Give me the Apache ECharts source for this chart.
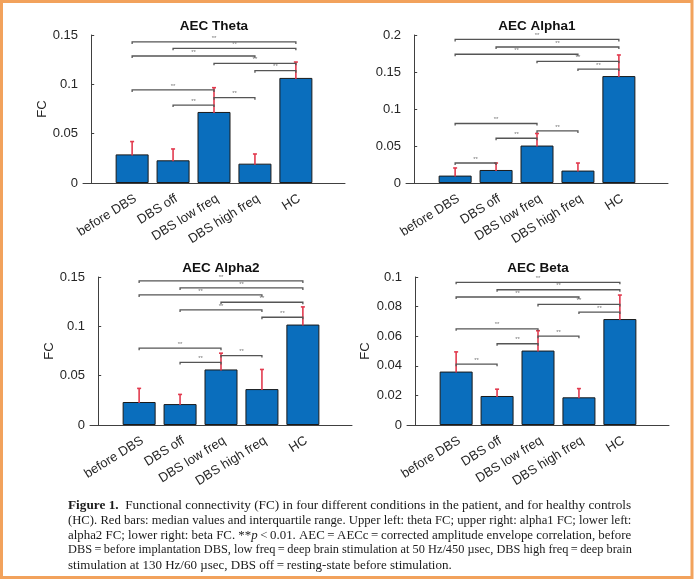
<!DOCTYPE html>
<html>
<head>
<meta charset="utf-8">
<script src="https://cdn.jsdelivr.net/npm/echarts@6/dist/echarts.min.js"></script>
<style>
html,body{margin:0;padding:0;background:#fff;}
#chart{width:694px;height:582px;}
</style>
</head>
<body>
<div id="chart"></div>
<script>
// ---------- data ----------
const categories = ['before DBS', 'DBS off', 'DBS low freq', 'DBS high freq', 'HC'];
const panelTitles = ['AEC Theta', 'AEC Alpha1', 'AEC Alpha2', 'AEC Beta'];

const thetaMedian  = [0.029, 0.023, 0.072, 0.0196, 0.1065];
const thetaUpper   = [0.042, 0.0345, 0.0966, 0.0294, 0.1226];
const alpha1Median = [0.010, 0.0176, 0.0506, 0.0168, 0.1445];
const alpha1Upper  = [0.0203, 0.027, 0.0669, 0.027, 0.173];
const alpha2Median = [0.0233, 0.0212, 0.0563, 0.0364, 0.1018];
const alpha2Upper  = [0.0371, 0.031, 0.0728, 0.0563, 0.1197];
const betaMedian   = [0.0361, 0.0196, 0.0503, 0.0187, 0.0716];
const betaUpper    = [0.0494, 0.0242, 0.0637, 0.0246, 0.0878];

// significance brackets: [from category #, to category #, height]
const thetaSig  = [[1,5,0.143],[2,5,0.1365],[1,4,0.1287],[3,5,0.1213],[4,5,0.1138],[1,3,0.0943],[3,4,0.0865],[2,3,0.079]];
const alpha1Sig = [[1,5,0.194],[2,5,0.1838],[1,4,0.174],[3,5,0.1644],[4,5,0.154],[1,3,0.0804],[3,4,0.0704],[2,3,0.0605],[1,2,0.027]];
const alpha2Sig = [[1,5,0.146],[2,5,0.1389],[1,4,0.1318],[3,5,0.1244],[2,4,0.1166],[4,5,0.1092],[1,3,0.0779],[3,4,0.0704],[2,3,0.0634]];
const betaSig   = [[1,5,0.0964],[2,5,0.0914],[1,4,0.0865],[3,5,0.0815],[4,5,0.0763],[1,3,0.065],[3,4,0.060],[2,3,0.0549],[1,2,0.0411]];

const yMax      = [0.15, 0.2, 0.15, 0.1];
const yInterval = [0.05, 0.05, 0.05, 0.02];
const showFC    = [true, false, true, true];

const T = '\u2009'; // thin space
const captionLines = [
  '{b|Figure 1.}  Functional connectivity (FC) in four different conditions in the patient, and for healthy controls',
  '(HC). Red bars: median values and interquartile range. Upper left: theta FC; upper right: alpha1 FC; lower left:',
  'alpha2 FC; lower right: beta FC. **{i|p}' + T + '<' + T + '0.01. AEC' + T + '=' + T + 'AECc' + T + '=' + T + 'corrected amplitude envelope correlation, before',
  'DBS' + T + '=' + T + 'before implantation DBS, low freq' + T + '=' + T + 'deep brain stimulation at 50 Hz/450 \u00b5sec, DBS high freq' + T + '=' + T + 'deep brain',
  'stimulation at 130 Hz/60 \u00b5sec, DBS off' + T + '=' + T + 'resting-state before stimulation.'
];

// ---------- layout / style ----------
const FONT = "'Liberation Sans', Arial, Helvetica, sans-serif";
const SERIF = "'Liberation Serif', 'Times New Roman', serif";
const TXT = '#262626';
const grids = [
  {left: 83,  top: 35,  width: 262, height: 148},
  {left: 406, top: 35,  width: 262, height: 148},
  {left: 90,  top: 277, width: 262, height: 148},
  {left: 407, top: 277, width: 262, height: 148}
];
const fcGap = [33, 33, 31, 35];
const medians = [thetaMedian, alpha1Median, alpha2Median, betaMedian];
const uppers  = [thetaUpper, alpha1Upper, alpha2Upper, betaUpper];
const sigs    = [thetaSig, alpha1Sig, alpha2Sig, betaSig];
const catPos  = categories.map((c, i) => i + 1);

const xAxes = [], yAxes = [], series = [], titles = [];
grids.forEach((g, k) => {
  xAxes.push({
    type: 'value', gridIndex: k, min: -0.2, max: 6.2,
    axisLine: {show: true, lineStyle: {color: '#404040', width: 1}},
    axisTick: {show: false},
    splitLine: {show: false},
    axisLabel: {
      customValues: catPos, rotate: 32, color: TXT, fontSize: 13, fontFamily: FONT, margin: 9,
      verticalAlign: 'top',
      formatter: v => categories[Math.round(v) - 1] || ''
    }
  });
  yAxes.push({
    type: 'value', gridIndex: k, min: 0, max: yMax[k], interval: yInterval[k],
    name: showFC[k] ? 'FC' : '', nameLocation: 'middle', nameGap: fcGap[k], nameRotate: 90,
    nameTextStyle: {color: TXT, fontSize: 13, fontFamily: FONT},
    axisLine: {show: true, lineStyle: {color: '#404040', width: 1}},
    axisTick: {show: true, inside: true, length: 3, lineStyle: {color: '#404040'}},
    splitLine: {show: false},
    axisLabel: {color: TXT, fontSize: 13, fontFamily: FONT, margin: 5}
  });
  titles.push({
    text: panelTitles[k], left: g.left + g.width / 2, top: g.top - 16, textAlign: 'center', padding: 0,
    textStyle: {fontSize: 13.5, fontWeight: 'bold', color: '#111', fontFamily: FONT}
  });
  series.push({
    type: 'bar', xAxisIndex: k, yAxisIndex: k, barWidth: 33,
    data: medians[k].map((v, i) => [catPos[i], v]),
    itemStyle: {color: '#0A6EBD', borderColor: '#1a1a1a', borderWidth: 1},
    z: 2
  });
  series.push({
    type: 'custom', xAxisIndex: k, yAxisIndex: k, z: 3,
    data: medians[k].map((v, i) => [catPos[i], v, uppers[k][i]]),
    encode: {x: 0, y: [1, 2]},
    renderItem: (params, api) => {
      const p0 = api.coord([api.value(0), api.value(1)]);
      const p1 = api.coord([api.value(0), api.value(2)]);
      const st = {stroke: '#E23A4E', lineWidth: 1.6};
      return {type: 'group', children: [
        {type: 'line', shape: {x1: p0[0], y1: p0[1] + 1, x2: p1[0], y2: p1[1]}, style: st},
        {type: 'line', shape: {x1: p1[0] - 2, y1: p1[1], x2: p1[0] + 2, y2: p1[1]}, style: st}
      ]};
    }
  });
  series.push({
    type: 'custom', xAxisIndex: k, yAxisIndex: k, z: 4,
    data: sigs[k],
    encode: {x: [0, 1], y: 2},
    renderItem: (params, api) => {
      const a = api.coord([api.value(0), api.value(2)]);
      const b = api.coord([api.value(1), api.value(2)]);
      return {type: 'group', children: [
        {type: 'polyline', shape: {points: [[a[0], a[1] + 2], a, b, [b[0], b[1] + 2]]},
         style: {stroke: '#555', lineWidth: 1.3, fill: null}},
        {type: 'text', style: {text: '**', x: (a[0] + b[0]) / 2, y: a[1] - 1, fill: '#777',
          fontSize: 6, fontFamily: FONT, align: 'center', verticalAlign: 'bottom'}}
      ]};
    }
  });
});

// caption: justify lines 1-4 to the text block width by per-line size
const ctx = document.createElement('canvas').getContext('2d');
function lineWidth(line, size) {
  const re = /\{(b|i)\|([^}]*)\}/g;
  let w = 0, last = 0, m;
  const meas = (txt, style) => { ctx.font = style + ' ' + size + 'px ' + SERIF; return ctx.measureText(txt).width; };
  while ((m = re.exec(line))) {
    w += meas(line.slice(last, m.index), 'normal');
    w += meas(m[2], m[1] === 'b' ? 'bold' : 'italic');
    last = re.lastIndex;
  }
  w += meas(line.slice(last), 'normal');
  return w;
}
const BASE = 13, BLOCK_W = 564;
const graphics = [
  {type: 'rect', shape: {x: 1.5, y: 1.5, width: 690.5, height: 576}, style: {fill: null, stroke: '#F2A25C', lineWidth: 3}, z: 100}
];
captionLines.forEach((t, i) => {
  let fs = BASE;
  if (i < captionLines.length - 1) {
    fs = Math.max(12.2, Math.min(13.6, BASE * BLOCK_W / lineWidth(t, BASE)));
  }
  graphics.push({
    type: 'text', left: 68, top: 499 + i * 15,
    style: {
      text: t, fill: '#1a1a1a', fontSize: fs, fontFamily: SERIF,
      rich: {
        b: {fontWeight: 'bold', fontSize: fs, fontFamily: SERIF, fill: '#1a1a1a'},
        i: {fontStyle: 'italic', fontSize: fs, fontFamily: SERIF, fill: '#1a1a1a'}
      }
    }
  });
});

const chart = echarts.init(document.getElementById('chart'), null, {renderer: 'canvas'});
chart.setOption({
  backgroundColor: '#ffffff',
  animation: false,
  title: titles,
  grid: grids,
  xAxis: xAxes,
  yAxis: yAxes,
  series: series,
  graphic: graphics
});
</script>
</body>
</html>
